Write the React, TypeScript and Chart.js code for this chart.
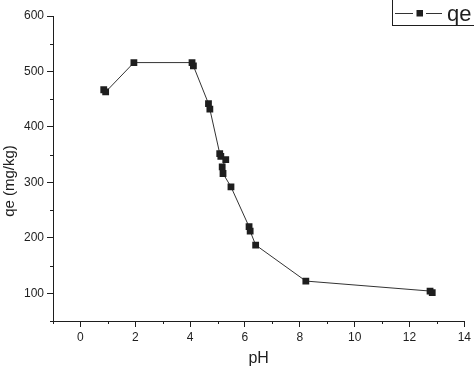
import React, { useEffect, useRef } from "react";
import { Chart, registerables } from "chart.js";

Chart.register(...registerables);

const phValues = [0.85, 0.92, 1.95, 4.07, 4.12, 4.67, 4.72, 5.08, 5.12, 5.3, 5.17, 5.2, 5.49, 6.15, 6.19, 6.39, 8.22, 12.75, 12.83];
const qeValues = [467, 463, 516, 516, 510, 442, 432, 352, 347, 341, 328, 316, 292, 220, 212, 187, 122, 104, 101];
const xMajorTicks = [0, 2, 4, 6, 8, 10, 12, 14];
const yMajorTicks = [100, 200, 300, 400, 500, 600];
const seriesName = "qe";

const INK = "#1e1e1e";
const FONT = "'Liberation Sans', Arial, sans-serif";

const minorTicksPlugin = {
  id: "minorTicks",
  afterDraw(chart: any) {
    const ctx = chart.ctx;
    const xs = chart.scales.x;
    const ys = chart.scales.y;
    ctx.save();
    ctx.strokeStyle = INK;
    ctx.lineWidth = 1;
    ctx.beginPath();
    xs.ticks.forEach((t: any) => {
      if (!xMajorTicks.includes(t.value)) {
        const px = Math.round(xs.getPixelForValue(t.value)) + 0.5;
        ctx.moveTo(px, xs.top);
        ctx.lineTo(px, xs.top + 3);
      }
    });
    ys.ticks.forEach((t: any) => {
      if (!yMajorTicks.includes(t.value)) {
        const py = Math.round(ys.getPixelForValue(t.value)) + 0.5;
        ctx.moveTo(ys.right, py);
        ctx.lineTo(ys.right - 3, py);
      }
    });
    ctx.stroke();
    ctx.restore();
  },
};

const legendPlugin = {
  id: "boxLegend",
  afterDraw(chart: any) {
    const ctx = chart.ctx;
    ctx.save();
    ctx.strokeStyle = INK;
    ctx.lineWidth = 1;
    ctx.strokeRect(392.5, -5, 120, 30.5);
    const ly = 13.5;
    ctx.strokeStyle = "#333";
    ctx.beginPath();
    ctx.moveTo(395, ly);
    ctx.lineTo(413, ly);
    ctx.moveTo(426, ly);
    ctx.lineTo(442, ly);
    ctx.stroke();
    ctx.fillStyle = INK;
    ctx.fillRect(416.5, 10, 6.5, 6.5);
    ctx.font = `22px ${FONT}`;
    ctx.textBaseline = "alphabetic";
    ctx.textAlign = "left";
    ctx.fillText(seriesName, 447, 20.5);
    ctx.restore();
  },
};

export default function App() {
  const ref = useRef<HTMLCanvasElement>(null);

  useEffect(() => {
    if (!ref.current) return;
    const chart = new Chart(ref.current, {
      type: "scatter",
      data: {
        datasets: [
          {
            label: seriesName,
            data: phValues.map((x, i) => ({ x, y: qeValues[i] })),
            showLine: true,
            borderColor: "#333",
            borderWidth: 1,
            pointStyle: "rect",
            pointRadius: 4.8,
            pointBackgroundColor: INK,
            pointBorderColor: INK,
            pointBorderWidth: 0,
          },
        ],
      },
      options: {
        animation: false,
        responsive: true,
        maintainAspectRatio: false,
        layout: { padding: { top: 16, right: 8, left: 0, bottom: 0 } },
        plugins: {
          legend: { display: false },
          tooltip: { enabled: false },
        },
        scales: {
          x: {
            type: "linear",
            min: -1,
            max: 14,
            afterFit: (s: any) => {
              s.height = 49;
            },
            ticks: {
              stepSize: 1,
              autoSkip: false,
              maxRotation: 0,
              padding: 3,
              color: INK,
              font: { family: FONT, size: 12 },
              callback: (v: any) => (xMajorTicks.includes(v) ? String(v) : ""),
            },
            grid: {
              display: true,
              drawOnChartArea: false,
              drawTicks: true,
              tickLength: 6,
              color: "rgba(0,0,0,0)",
              tickColor: (c: any) => (c.tick && xMajorTicks.includes(c.tick.value) ? INK : "rgba(0,0,0,0)"),
            },
            border: { display: true, color: INK, width: 1 },
            title: {
              display: true,
              text: "pH",
              color: INK,
              font: { family: FONT, size: 16 },
              padding: { top: 0, bottom: 2 },
            },
          },
          y: {
            type: "linear",
            min: 50,
            max: 600,
            afterFit: (s: any) => {
              s.width = 53;
            },
            ticks: {
              stepSize: 50,
              autoSkip: false,
              padding: 3,
              color: INK,
              font: { family: FONT, size: 12 },
              callback: (v: any) => (yMajorTicks.includes(v) ? String(v) : ""),
            },
            grid: {
              display: true,
              drawOnChartArea: false,
              drawTicks: true,
              tickLength: 6,
              color: "rgba(0,0,0,0)",
              tickColor: (c: any) => (c.tick && yMajorTicks.includes(c.tick.value) ? INK : "rgba(0,0,0,0)"),
            },
            border: { display: true, color: INK, width: 1 },
            title: {
              display: true,
              text: "qe (mg/kg)      ",
              color: INK,
              font: { family: FONT, size: 15 },
              padding: { top: 1, bottom: 0 },
            },
          },
        },
      },
      plugins: [minorTicksPlugin, legendPlugin],
    });
    return () => chart.destroy();
  }, []);

  return (
    <div style={{ position: "absolute", left: 0, top: 0, width: 474, height: 370, background: "#fff" }}>
      <canvas ref={ref} />
    </div>
  );
}
